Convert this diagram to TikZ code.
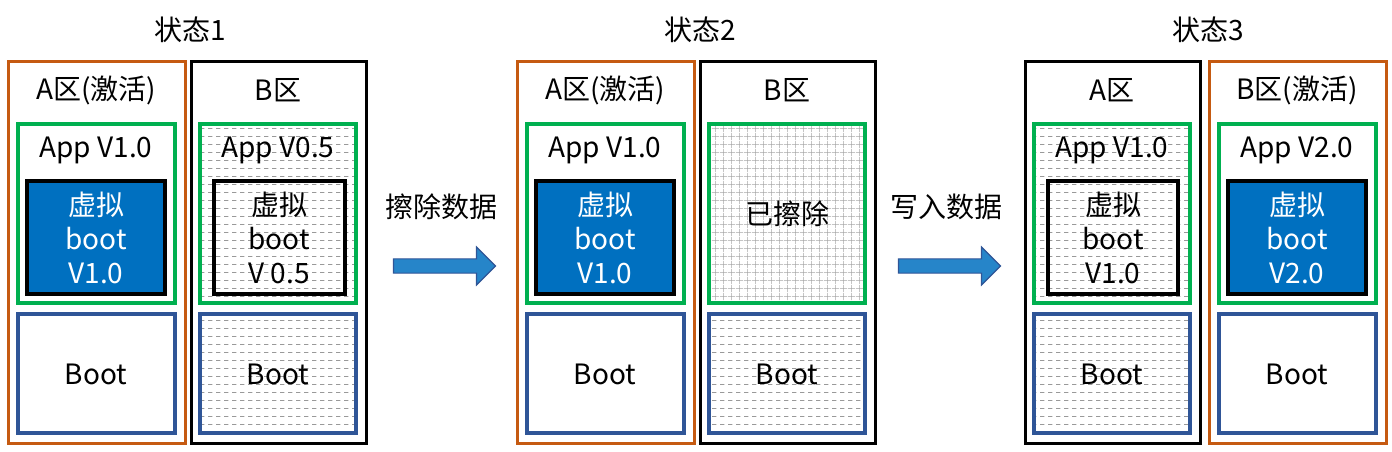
\documentclass[tikz,border=0pt]{standalone}
\usepackage{fontspec}
\setmainfont{Noto Sans CJK SC}
\usetikzlibrary{patterns,shapes.arrows}
\definecolor{brn}{HTML}{C55A11}
\definecolor{grn}{HTML}{00B050}
\definecolor{bbl}{HTML}{2F5597}
\definecolor{fbl}{HTML}{0070C0}
\pgfdeclarepatternformonly{dashlines}{\pgfqpoint{0pt}{0pt}}{\pgfqpoint{8pt}{8pt}}{\pgfqpoint{8pt}{8pt}}{%
 \pgfsetlinewidth{0.8pt}\pgfpathmoveto{\pgfqpoint{0pt}{4pt}}\pgfpathlineto{\pgfqpoint{5pt}{4pt}}\pgfusepath{stroke}}
\pgfdeclarepatternformonly{gridlines}{\pgfqpoint{0pt}{0pt}}{\pgfqpoint{8pt}{8pt}}{\pgfqpoint{8pt}{8pt}}{%
 \pgfsetlinewidth{0.6pt}\pgfpathmoveto{\pgfqpoint{0pt}{4pt}}\pgfpathlineto{\pgfqpoint{8pt}{4pt}}
 \pgfpathmoveto{\pgfqpoint{4pt}{0pt}}\pgfpathlineto{\pgfqpoint{4pt}{8pt}}\pgfusepath{stroke}}
\tikzset{
 outerA/.style={draw=brn,line width=3pt},
 outerK/.style={draw=black,line width=3pt},
 appbox/.style={draw=grn,line width=4pt},
 vbox/.style={draw=black,line width=4pt},
 bootbox/.style={draw=bbl,line width=4pt},
 hl/.style={pattern=dashlines,pattern color=gray!80},
 gd/.style={pattern=gridlines,pattern color=gray!70},
 txt/.style={font=\fontsize{28}{34}\selectfont,align=center},
 wtxt/.style={txt,text=white},
 arr/.style={single arrow,draw=bbl,fill=fbl!85!white,line width=1.2pt,minimum height=102pt,minimum width=38pt,single arrow head extend=1pt,inner sep=0pt,single arrow head indent=0pt}
}
\begin{document}
\begin{tikzpicture}[x=1pt,y=-1pt]
\useasboundingbox (0,0) rectangle (1392,452);
% ---- state 1
\node[txt] (t1) at (190,30) {状态1};
\draw[outerA] (8,62) rectangle (185,443);
\node[txt] (a1) at (96,90) {A区(激活)};
\draw[appbox] (18,124) rectangle (175,303);
\node[txt] (a1app) at (96,150) {App V1.0};
\draw[vbox,fill=fbl] (27,181) rectangle (165,294);
\node[wtxt] (a1v) at (96,238) {虚拟\\boot\\V1.0};
\draw[bootbox] (18,314) rectangle (175,433);
\node[txt] (a1b) at (96,374) {Boot};
\draw[outerK] (191,62) rectangle (366,443);
\node[txt] (b1) at (278,90) {B区};
\draw[appbox,hl] (200,124) rectangle (356,303);
\draw[vbox] (214,181) rectangle (345,294);
\node[txt] (b1app) at (278,150) {App V0.5};
\node[txt] (b1v) at (279,238) {虚拟\\boot\\V 0.5};
\draw[bootbox,hl] (200,314) rectangle (356,433);
\node[txt] (b1b) at (278,374) {Boot};
% arrow 1
\node[txt] (l1) at (441,207) {擦除数据};
\node[arr] (ar1) at (441,266) {};
% ---- state 2
\node[txt] (t2) at (700,30) {状态2};
\draw[outerA] (517,62) rectangle (694,443);
\node[txt] (a2) at (605,90) {A区(激活)};
\draw[appbox] (527,124) rectangle (684,303);
\node[txt] (a2app) at (605,150) {App V1.0};
\draw[vbox,fill=fbl] (536,181) rectangle (674,294);
\node[wtxt] (a2v) at (605,238) {虚拟\\boot\\V1.0};
\draw[bootbox] (527,314) rectangle (684,433);
\node[txt] (a2b) at (605,374) {Boot};
\draw[outerK] (700,62) rectangle (875,443);
\node[txt] (b2) at (787,90) {B区};
\draw[appbox,gd] (709,124) rectangle (865,303);
\node[txt] (b2e) at (787,214) {已擦除};
\draw[bootbox,hl] (709,314) rectangle (865,433);
\node[txt] (b2b) at (787,374) {Boot};
% arrow 2
\node[txt] (l2) at (946,207) {写入数据};
\node[arr] (ar2) at (946,266) {};
% ---- state 3
\node[txt] (t3) at (1208,30) {状态3};
\draw[outerK] (1025,62) rectangle (1200,443);
\node[txt] (a3) at (1112,90) {A区};
\draw[appbox,hl] (1034,124) rectangle (1190,303);
\draw[vbox] (1048,181) rectangle (1178,294);
\node[txt] (a3app) at (1112,150) {App V1.0};
\node[txt] (a3v) at (1113,238) {虚拟\\boot\\V1.0};
\draw[bootbox,hl] (1034,314) rectangle (1190,433);
\node[txt] (a3b) at (1112,374) {Boot};
\draw[outerA] (1209,62) rectangle (1386,443);
\node[txt] (b3) at (1297,90) {B区(激活)};
\draw[appbox] (1219,124) rectangle (1376,303);
\node[txt] (b3app) at (1297,150) {App V2.0};
\draw[vbox,fill=fbl] (1228,181) rectangle (1366,294);
\node[wtxt] (b3v) at (1297,238) {虚拟\\boot\\V2.0};
\draw[bootbox] (1219,314) rectangle (1376,433);
\node[txt] (b3b) at (1297,374) {Boot};
\end{tikzpicture}
\end{document}
